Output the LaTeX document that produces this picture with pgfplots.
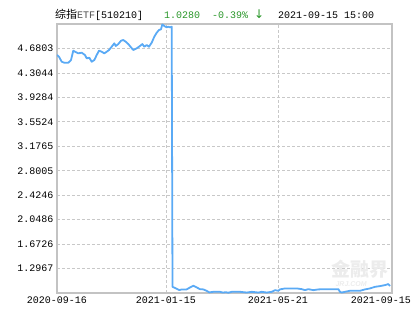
\documentclass[border=0pt]{standalone}
\usepackage{fontspec}
\setmainfont{Liberation Mono}
\newfontfamily\cjk{Noto Sans CJK SC}
\newfontfamily\dvs{DejaVu Sans}
\newfontfamily\lsans{Liberation Sans}
\usepackage{pgfplots}
\pgfplotsset{compat=1.18}
\definecolor{linec}{RGB}{90,170,245}
\definecolor{gridc}{RGB}{200,200,200}
\definecolor{framec}{RGB}{195,195,195}
\definecolor{upc}{RGB}{40,150,40}
\definecolor{wmc}{RGB}{236,236,236}
\begin{document}
\begin{tikzpicture}[font=\fontsize{10bp}{12bp}\selectfont]
\useasboundingbox (-57bp,-37bp) rectangle (358bp,293bp);
\begin{axis}[at={(0,0)}, anchor=south west, scale only axis,
  width=335bp, height=269bp,
  xmin=0, xmax=335, ymin=0.9208, ymax=5.0562,
  axis line style={framec, line width=1.2bp},
  major tick length=0, minor tick num=0,
  xtick={0,109,221}, xticklabels={2020-09-16,2021-01-15,2021-05-21},
  extra x ticks={335}, extra x tick labels={2021-09-15},
  extra x tick style={grid=none, xticklabel style={xshift=-11bp}},
  ytick={1.2967,1.6726,2.0486,2.4246,2.8005,3.1765,3.5524,3.9284,4.3044,4.6803},
  yticklabels={1.2967,1.6726,2.0486,2.4246,2.8005,3.1765,3.5524,3.9284,4.3044,4.6803},
  grid=major, grid style={gridc, dash pattern=on 3bp off 2bp, line width=0.8bp},
  tick label style={black},
  clip=true,
]
\node[wmc, font=\cjk\fontsize{19bp}{20bp}\selectfont\bfseries] at (rel axis cs:0.904,0.087) {金融界};
\node[wmc, font=\lsans\fontsize{7bp}{8bp}\selectfont\bfseries\itshape] at (rel axis cs:0.878,0.033) {JRJ.COM};
\addplot[linec, line width=1.8bp, line join=round, mark=none] coordinates {
(0,4.58) (2,4.553) (4.7,4.476) (7.3,4.461) (11.3,4.461) (14,4.502) (16.3,4.646)
(18,4.630) (21.3,4.605) (24.7,4.615) (28,4.579) (29.7,4.528) (32.3,4.538)
(34.7,4.476) (37.3,4.502) (39.7,4.579) (42,4.646) (44.7,4.630) (47.3,4.605)
(49.7,4.630) (52,4.656) (54.7,4.707) (57.3,4.759) (58.7,4.718) (61.3,4.748)
(64,4.799) (66.3,4.810) (68.7,4.784) (71.3,4.748) (74,4.697) (76.3,4.656)
(79.7,4.682) (83,4.718) (85.3,4.748) (87.3,4.707) (89.7,4.733) (92,4.707)
(94.7,4.769) (97.3,4.861) (99.7,4.922) (102,4.964) (104,4.974) (105.3,5.050)
(107.3,5.025) (109.7,5.005) (111.3,5.015) (113,5.005) (114.7,5.015)
(115.5,1.016) (119,0.991) (122.3,0.965) (124.7,0.976) (129.7,0.976) (133,1.006)
(136.3,1.032) (139.7,1.006) (143,0.98) (146.3,0.976) (149.7,0.954) (152.3,0.93)
(156.3,0.939) (163,0.939) (165.7,0.928) (169,0.933) (171.3,0.925) (174.7,0.939)
(183,0.939) (189.7,0.928) (194.7,0.939) (201.3,0.928) (204.7,0.939) (209.7,0.928)
(214.7,0.939) (218,0.965) (221.3,0.955) (223,0.976) (228,0.991) (234.7,0.991)
(239.7,0.991) (244.7,0.98) (248,0.965) (251.3,0.98) (256.3,0.965) (261.3,0.976)
(268,0.98) (274.7,0.98) (281.3,0.98) (283,0.939) (284.7,0.928) (288,0.939)
(293,0.955) (298,0.955) (303,0.955) (308,0.976) (313,0.991) (318,1.016)
(323,1.027) (328,1.042) (331.3,1.058) (333,1.028)
};
\end{axis}
\node[anchor=base west, inner sep=0] at (-2bp,274bp) {{\cjk\fontsize{11bp}{12bp}\selectfont 综指}{\color{black!70}ETF}[510210]};
\node[anchor=base west, inner sep=0, text=upc] at (107bp,274bp) {1.0280};
\node[anchor=base west, inner sep=0, text=upc] at (155bp,274bp) {-0.39\% {\dvs\fontsize{12bp}{12bp}\selectfont ↓}};
\node[anchor=base west, inner sep=0] at (221bp,274bp) {2021-09-15 15:00};
\end{tikzpicture}
\end{document}
